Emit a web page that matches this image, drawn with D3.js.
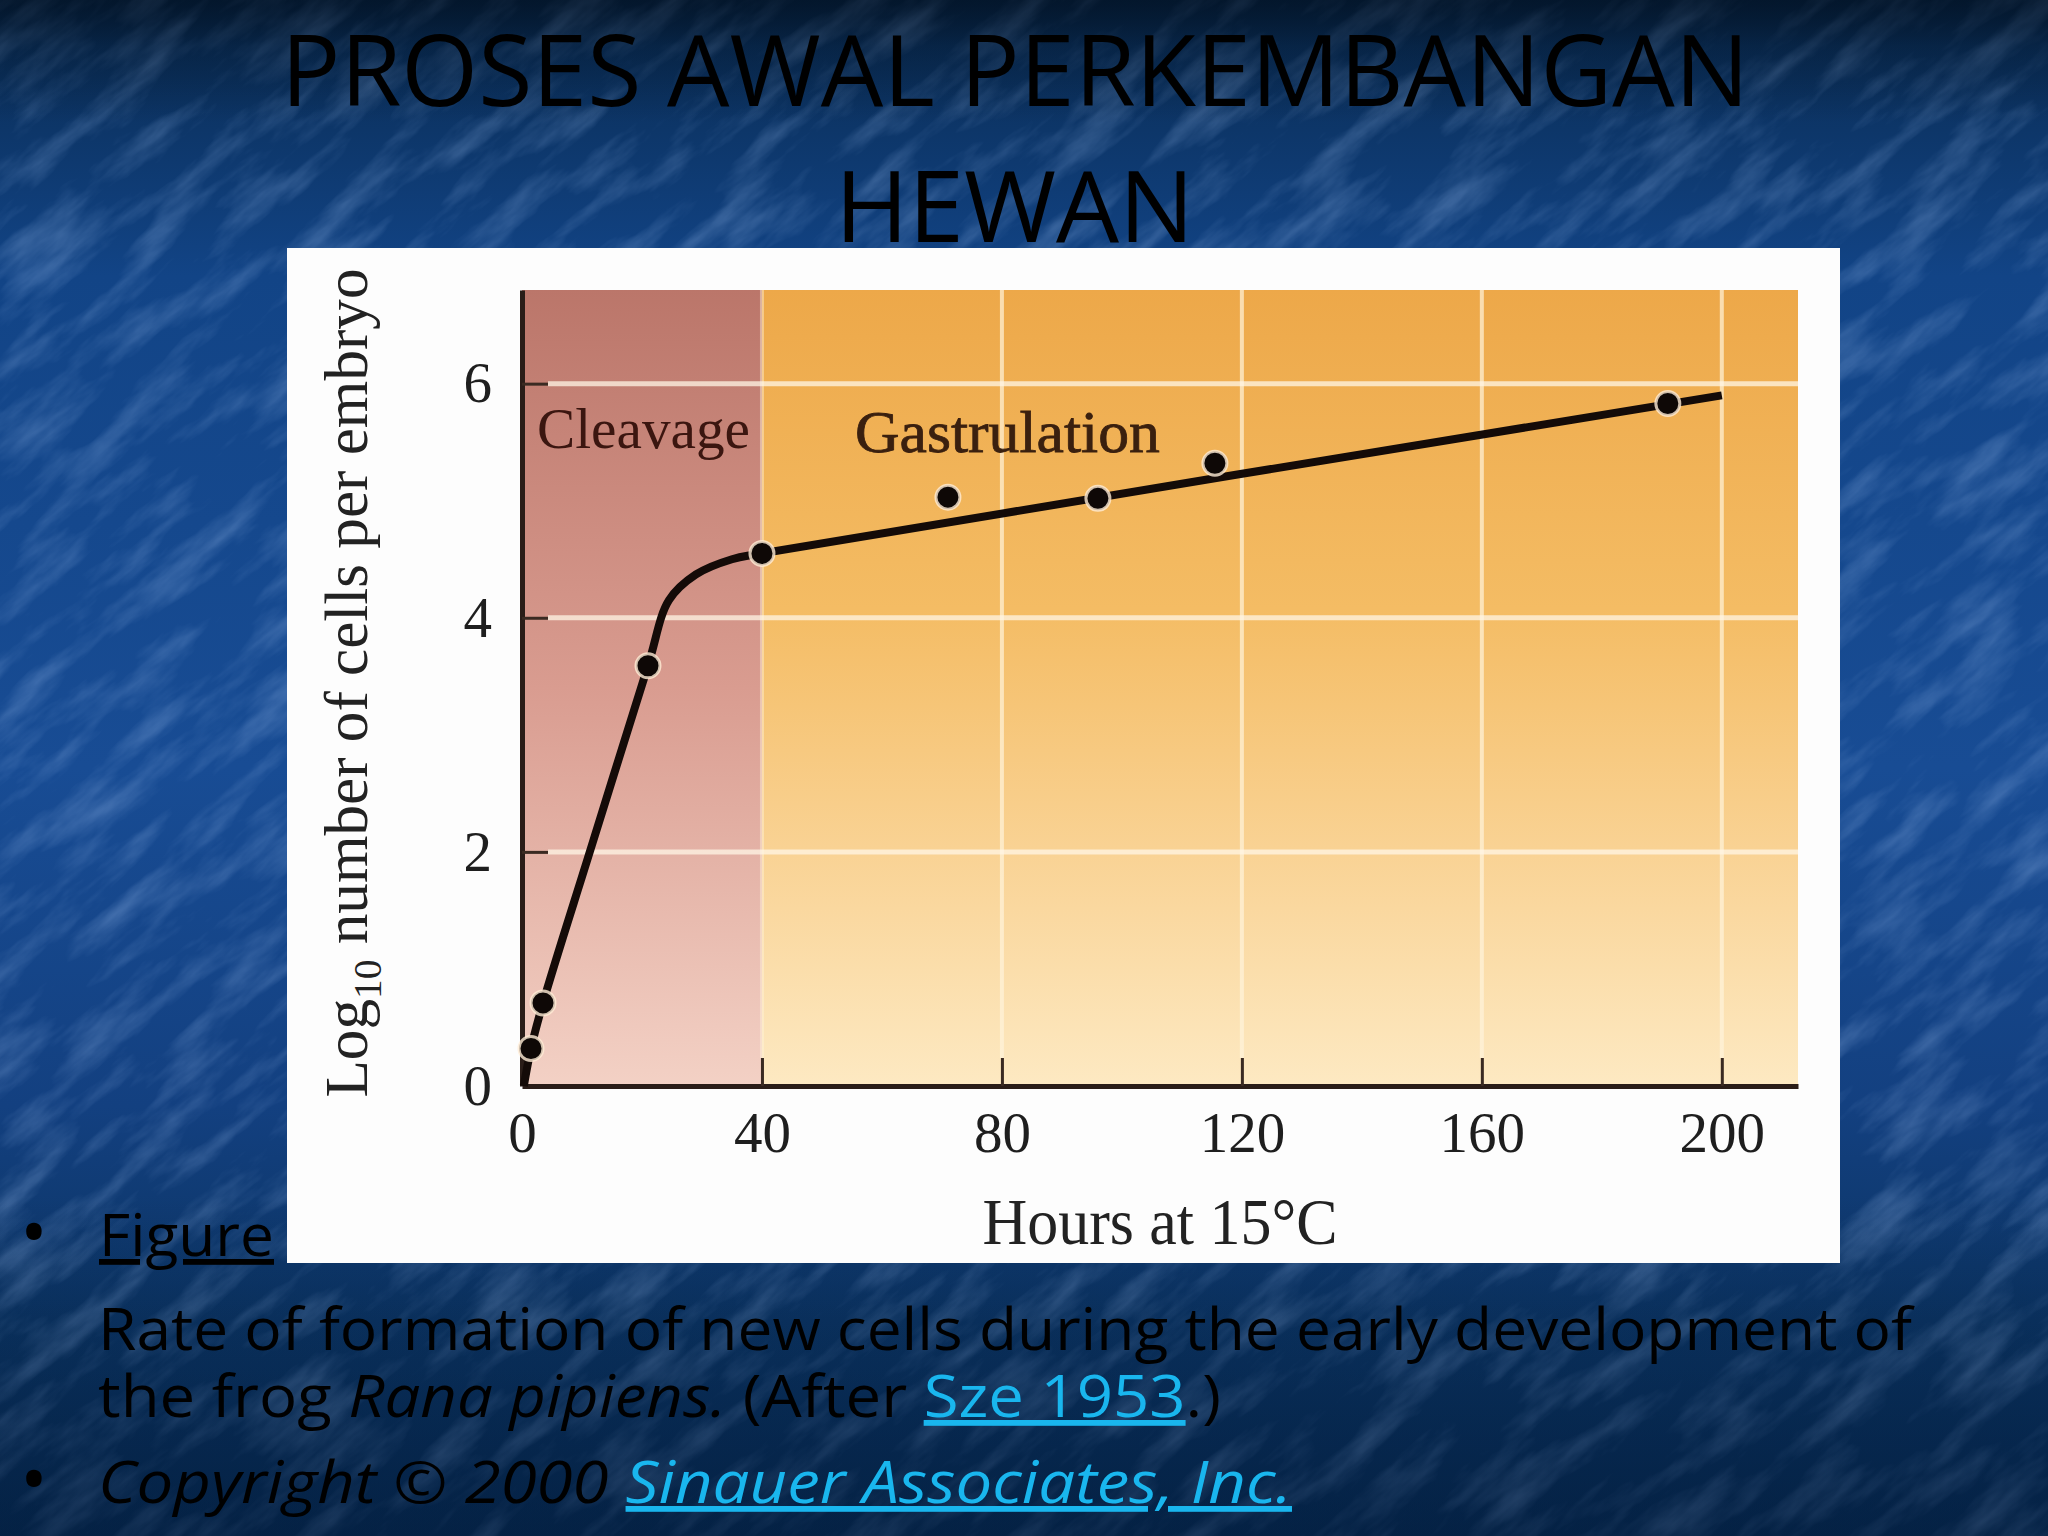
<!DOCTYPE html>
<html>
<head>
<meta charset="utf-8">
<script src="https://cdn.jsdelivr.net/npm/d3@7"></script>
<style>
  html, body { margin: 0; padding: 0; background: #0b3466; }
  svg { display: block; }
</style>
</head>
<body>
<div id="chart"></div>
<script>
// values (Sze 1953, Rana pipiens)
const obsHours = [1.5, 3.5, 21, 40, 71, 96, 115.5, 191];
const obsLogCells = [0.32, 0.71, 3.59, 4.55, 5.03, 5.02, 5.32, 5.83];
const curveHours = [0.3, 1.5, 3.5, 11.3, 21, 24.5, 29, 35, 40, 200];
const curveLogCells = [0, 0.32, 0.71, 2.0, 3.59, 4.15, 4.37, 4.5, 4.55, 5.9];
const xTicks = [0, 40, 80, 120, 160, 200];
const yTicks = [0, 2, 4, 6];
const gridX = [40, 80, 120, 160, 200];
const gridY = [2, 4, 6];
const phaseNames = ["Cleavage", "Gastrulation"];
const phaseStarts = [0, 40];
const xMax = 212.7;
const yMax = 6.8;

const W = 2048, H = 1536;

const svg = d3.select("#chart").append("svg")
  .attr("width", W)
  .attr("height", H);
const defs = svg.append("defs");

function gradient(id, stops) {
  let g = defs.append("linearGradient").attr("id", id)
    .attr("x1", 0).attr("y1", 0).attr("x2", 0).attr("y2", 1);
  stops.forEach(s => g.append("stop").attr("offset", s[0]).attr("stop-color", s[1]));
}

gradient("bg", [[0, "#041a32"], [0.03, "#0a2e58"], [0.18, "#124486"], [0.5, "#184c94"], [0.72, "#134080"], [0.86, "#0b3463"], [1, "#062a52"]]);
gradient("cleave", [[0, "#bb766a"], [0.5, "#d99c90"], [1, "#f3d1c5"]]);
gradient("gastr", [[0, "#eda849"], [0.4, "#f4bc64"], [0.7, "#f9d293"], [1, "#fde9c2"]]);
gradient("shade", [[0, "rgba(3,20,40,0.6)"], [0.08, "rgba(3,20,40,0)"], [0.78, "rgba(3,25,55,0)"], [1, "rgba(3,25,55,0.5)"]]);

// streaky slide texture
let tex = defs.append("filter").attr("id", "tex")
  .attr("filterUnits", "userSpaceOnUse")
  .attr("x", -800).attr("y", -800).attr("width", 3700).attr("height", 3200);
tex.append("feTurbulence").attr("type", "fractalNoise")
  .attr("baseFrequency", "0.009 0.035").attr("numOctaves", 5).attr("seed", 11);
tex.append("feColorMatrix").attr("type", "matrix")
  .attr("values", "0 0 0 0 0.32  0 0 0 0 0.5  0 0 0 0 0.84  0 0 0 1.8 -0.8");

svg.append("rect").attr("width", W).attr("height", H).attr("fill", "url(#bg)");
svg.append("rect")
  .attr("x", -800).attr("y", -800).attr("width", 3700).attr("height", 3200)
  .attr("transform", "rotate(-40," + W / 2 + "," + H / 2 + ")")
  .attr("filter", "url(#tex)").attr("opacity", 0.4);
svg.append("rect").attr("width", W).attr("height", H).attr("fill", "url(#shade)");

// slide title
const titleFont = "'Open Sans', 'DejaVu Sans', sans-serif";
svg.append("text")
  .attr("x", 281).attr("y", 106)
  .attr("font-family", titleFont).attr("font-size", 98)
  .attr("textLength", 1468).attr("lengthAdjust", "spacingAndGlyphs")
  .attr("fill", "#000")
  .text("PROSES AWAL PERKEMBANGAN");
svg.append("text")
  .attr("x", 835).attr("y", 242)
  .attr("font-family", titleFont).attr("font-size", 98)
  .attr("textLength", 359).attr("lengthAdjust", "spacingAndGlyphs")
  .attr("fill", "#000")
  .text("HEWAN");

// caption below the figure
const cap = svg.append("g")
  .attr("font-family", titleFont)
  .attr("font-size", 58)
  .attr("fill", "#000");

cap.append("text").attr("x", 20).attr("y", 1258).attr("font-size", 74).text("\u2022");
cap.append("text").attr("x", 20).attr("y", 1505).attr("font-size", 74).text("\u2022");

cap.append("text")
  .attr("x", 99).attr("y", 1256)
  .attr("textLength", 175).attr("lengthAdjust", "spacingAndGlyphs")
  .attr("text-decoration", "underline")
  .text("Figure");

cap.append("text")
  .attr("x", 98).attr("y", 1350)
  .attr("textLength", 1814).attr("lengthAdjust", "spacingAndGlyphs")
  .text("Rate of formation of new cells during the early development of");

let l2 = cap.append("text")
  .attr("x", 98).attr("y", 1417)
  .attr("textLength", 1123).attr("lengthAdjust", "spacingAndGlyphs");
l2.append("tspan").text("the frog ");
l2.append("tspan").attr("font-style", "italic").text("Rana pipiens.");
l2.append("tspan").text(" (After ");
l2.append("tspan").attr("fill", "#19b6ee").attr("text-decoration", "underline").text("Sze 1953");
l2.append("tspan").text(".)");

let l3 = cap.append("text")
  .attr("x", 98).attr("y", 1503)
  .attr("font-style", "italic")
  .attr("textLength", 1194).attr("lengthAdjust", "spacingAndGlyphs");
l3.append("tspan").text("Copyright \u00a9 2000 ");
l3.append("tspan").attr("fill", "#19b6ee").attr("text-decoration", "underline").text("Sinauer Associates, Inc.");

// white figure panel
svg.append("rect")
  .attr("x", 287).attr("y", 248)
  .attr("width", 1553).attr("height", 1015)
  .attr("fill", "#fdfdfd");

// plot
const x = d3.scaleLinear().domain([0, xMax]).range([522, 1798]);
const y = d3.scaleLinear().domain([0, yMax]).range([1086, 290]);

const plot = svg.append("g").attr("class", "plot");

const phaseEnds = phaseStarts.slice(1).concat([xMax]);
plot.selectAll(".phase")
  .data(phaseNames)
  .enter()
  .append("rect")
  .attr("class", "phase")
  .attr("x", (d, i) => x(phaseStarts[i]))
  .attr("y", y(yMax))
  .attr("width", (d, i) => x(phaseEnds[i]) - x(phaseStarts[i]))
  .attr("height", y(0) - y(yMax))
  .attr("fill", (d, i) => i === 0 ? "url(#cleave)" : "url(#gastr)");

plot.selectAll(".gx")
  .data(gridX)
  .enter()
  .append("line")
  .attr("class", "gx")
  .attr("x1", d => x(d)).attr("x2", d => x(d))
  .attr("y1", y(yMax)).attr("y2", y(0) - 28)
  .attr("stroke", "#fff4dc")
  .attr("stroke-opacity", d => d === 40 ? 0.45 : 0.7)
  .attr("stroke-width", 4);

plot.selectAll(".gy")
  .data(gridY)
  .enter()
  .append("line")
  .attr("class", "gy")
  .attr("x1", x(0) + 26).attr("x2", x(xMax))
  .attr("y1", d => y(d)).attr("y2", d => y(d))
  .attr("stroke", "#fff6e6")
  .attr("stroke-opacity", 0.75)
  .attr("stroke-width", 5);

// axes
const tickFont = "'Liberation Serif', 'Times New Roman', serif";

let xAxis = plot.append("g")
  .attr("transform", "translate(0," + y(0) + ")")
  .call(d3.axisBottom(x).tickValues(xTicks).tickFormat(d3.format("d"))
    .tickSize(-28).tickSizeOuter(0).tickPadding(26));
let yAxis = plot.append("g")
  .attr("transform", "translate(" + x(0) + ",0)")
  .call(d3.axisLeft(y).tickValues(yTicks).tickFormat(d3.format("d"))
    .tickSize(-26).tickSizeOuter(0).tickPadding(30));

[xAxis, yAxis].forEach(a => {
  a.select(".domain").attr("stroke", "#2a1d18").attr("stroke-width", 5);
  a.selectAll(".tick line").attr("stroke", "#3a2a22").attr("stroke-width", 3);
  a.selectAll(".tick text")
    .attr("font-family", tickFont)
    .attr("font-size", 57)
    .attr("fill", "#1e1e1e");
});
yAxis.selectAll(".tick").filter(d => d === 0).select("line").remove();
xAxis.selectAll(".tick").filter(d => d === 0).select("line").remove();

// fitted curve
const curvePts = curveHours.map((h, i) => [h, curveLogCells[i]]);
const line = d3.line()
  .x(d => x(d[0]))
  .y(d => y(d[1]))
  .curve(d3.curveCatmullRom.alpha(0.5));

plot.append("path")
  .attr("d", line(curvePts))
  .attr("fill", "none")
  .attr("stroke", "#140b08")
  .attr("stroke-width", 8)
  .attr("stroke-linejoin", "round");

// observations
plot.selectAll(".obs")
  .data(obsHours)
  .enter()
  .append("circle")
  .attr("class", "obs")
  .attr("cx", d => x(d))
  .attr("cy", (d, i) => y(obsLogCells[i]))
  .attr("r", 12)
  .attr("fill", "#0e0806")
  .attr("stroke", "rgba(255,236,214,0.8)")
  .attr("stroke-width", 3);

// phase labels
plot.append("text")
  .attr("x", x(2.5)).attr("y", y(5.45))
  .attr("font-family", tickFont).attr("font-size", 57)
  .attr("textLength", 213).attr("lengthAdjust", "spacingAndGlyphs")
  .attr("fill", "#3b1610")
  .text(phaseNames[0]);
plot.append("text")
  .attr("x", x(55.5)).attr("y", y(5.42))
  .attr("font-family", tickFont).attr("font-size", 60)
  .attr("textLength", 305).attr("lengthAdjust", "spacingAndGlyphs")
  .attr("fill", "#3a200f")
  .attr("stroke", "#3a200f").attr("stroke-width", 0.8)
  .text(phaseNames[1]);

// axis titles
plot.append("text")
  .attr("x", 1160).attr("y", 1244)
  .attr("text-anchor", "middle")
  .attr("font-family", tickFont).attr("font-size", 66)
  .attr("textLength", 355).attr("lengthAdjust", "spacingAndGlyphs")
  .attr("fill", "#222")
  .text("Hours at 15\u00b0C");

let yt = plot.append("text")
  .attr("transform", "translate(367,683) rotate(-90)")
  .attr("text-anchor", "middle")
  .attr("font-family", tickFont).attr("font-size", 62)
  .attr("textLength", 829).attr("lengthAdjust", "spacingAndGlyphs")
  .attr("fill", "#222");
yt.append("tspan").text("Log");
yt.append("tspan").attr("font-size", 40).attr("dy", 14).text("10");
yt.append("tspan").attr("dy", -14).text(" number of cells per embryo");
</script>
</body>
</html>
